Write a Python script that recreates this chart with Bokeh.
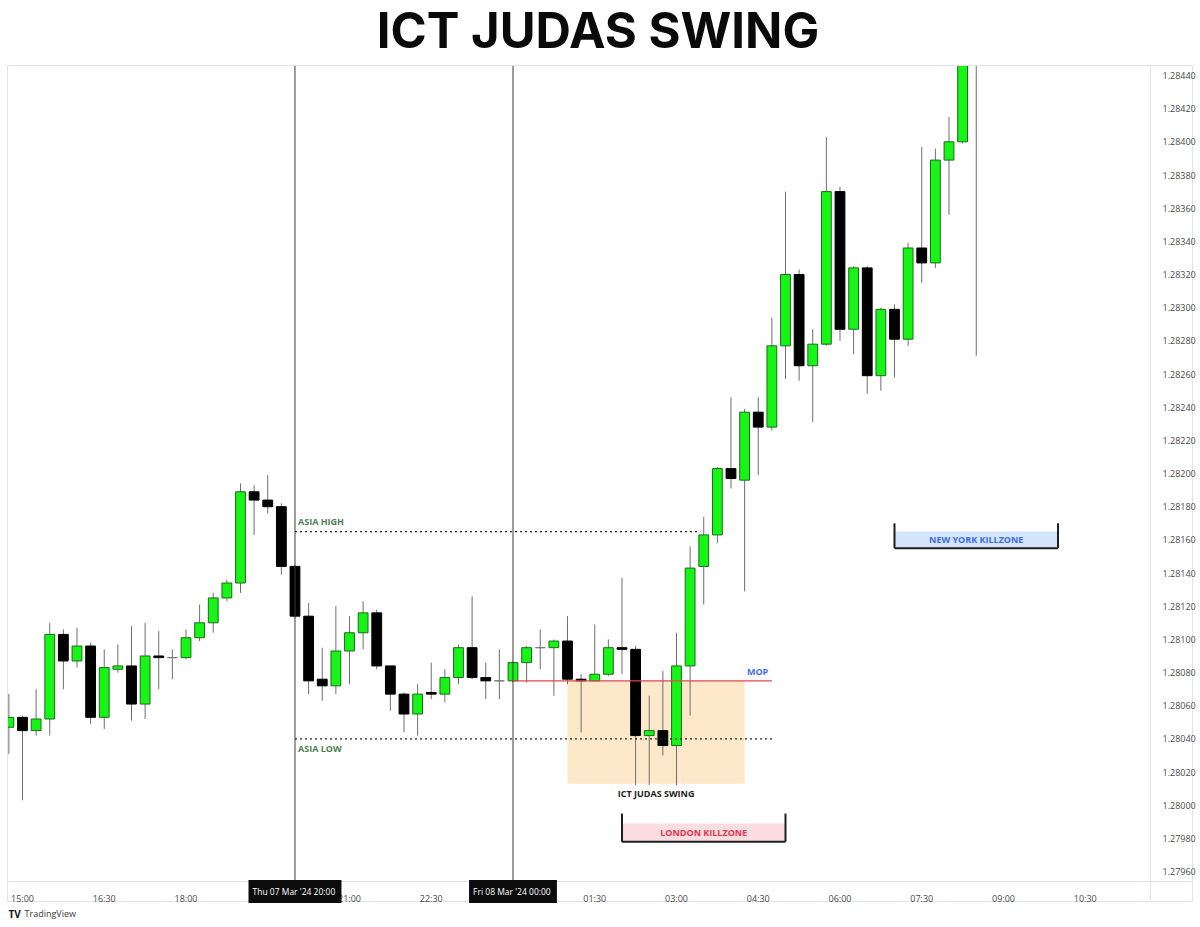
from bokeh.plotting import figure
from bokeh.models import Range1d, FixedTicker, NumeralTickFormatter, Label, LinearAxis, ColumnDataSource
from bokeh.embed import file_html
from bokeh.resources import INLINE

# ---------------- data (15-minute bars, first bar = 14:45) ----------------
first_bar = "14:45"
bar_minutes = 15

opens = [1.28047, 1.28053, 1.28045, 1.28052, 1.28103, 1.28087, 1.28096, 1.28053, 1.28082, 1.28084,
         1.28061, 1.28090, 1.28089, 1.28089, 1.28101, 1.28110, 1.28125, 1.28134, 1.28189, 1.28184,
         1.28180, 1.28144, 1.28114, 1.28076, 1.28072, 1.28093, 1.28104, 1.28116, 1.28084, 1.28067,
         1.28055, 1.28068, 1.28067, 1.28077, 1.28095, 1.28077, 1.28075, 1.28075, 1.28086, 1.28095,
         1.28095, 1.28099, 1.28076, 1.28075, 1.28079, 1.28095, 1.28094, 1.28042, 1.28045, 1.28036,
         1.28084, 1.28144, 1.28163, 1.28203, 1.28196, 1.28237, 1.28228, 1.28277, 1.28320, 1.28265,
         1.28278, 1.28370, 1.28287, 1.28324, 1.28259, 1.28299, 1.28281, 1.28336, 1.28327, 1.28389,
         1.28400, 1.28455]
highs = [1.28067, 1.28054, 1.28070, 1.28110, 1.28106, 1.28107, 1.28098, 1.28094, 1.28097, 1.28108,
         1.28110, 1.28105, 1.28094, 1.28106, 1.28121, 1.28128, 1.28136, 1.28194, 1.28193, 1.28199,
         1.28182, 1.28145, 1.28122, 1.28095, 1.28120, 1.28114, 1.28123, 1.28118, 1.28084, 1.28068,
         1.28073, 1.28086, 1.28082, 1.28097, 1.28126, 1.28086, 1.28094, 1.28087, 1.28096, 1.28106,
         1.28100, 1.28114, 1.28079, 1.28109, 1.28100, 1.28137, 1.28096, 1.28066, 1.28081, 1.28104,
         1.28156, 1.28174, 1.28204, 1.28246, 1.28239, 1.28246, 1.28294, 1.28370, 1.28323, 1.28287,
         1.28403, 1.28373, 1.28325, 1.28325, 1.28300, 1.28302, 1.28339, 1.28397, 1.28396, 1.28415,
         1.28460, 1.28480]
lows = [1.28031, 1.28003, 1.28042, 1.28042, 1.28070, 1.28083, 1.28049, 1.28046, 1.28080, 1.28051,
        1.28052, 1.28070, 1.28076, 1.28088, 1.28099, 1.28104, 1.28123, 1.28128, 1.28163, 1.28176,
        1.28139, 1.28113, 1.28067, 1.28063, 1.28067, 1.28073, 1.28094, 1.28082, 1.28057, 1.28044,
        1.28042, 1.28064, 1.28062, 1.28073, 1.28076, 1.28064, 1.28064, 1.28074, 1.28074, 1.28082,
        1.28066, 1.28073, 1.28044, 1.28075, 1.28078, 1.28079, 1.28012, 1.28012, 1.28030, 1.28012,
        1.28054, 1.28121, 1.28158, 1.28191, 1.28129, 1.28199, 1.28226, 1.28257, 1.28256, 1.28231,
        1.28277, 1.28280, 1.28272, 1.28248, 1.28250, 1.28258, 1.28277, 1.28315, 1.28324, 1.28356,
        1.28399, 1.28271]
closes = [1.28053, 1.28045, 1.28052, 1.28103, 1.28087, 1.28096, 1.28053, 1.28083, 1.28084, 1.28061,
          1.28090, 1.28089, 1.28089, 1.28101, 1.28110, 1.28125, 1.28134, 1.28189, 1.28184, 1.28180,
          1.28144, 1.28114, 1.28075, 1.28072, 1.28093, 1.28104, 1.28116, 1.28084, 1.28067, 1.28055,
          1.28067, 1.28067, 1.28077, 1.28095, 1.28077, 1.28075, 1.28075, 1.28086, 1.28095, 1.28095,
          1.28099, 1.28076, 1.28075, 1.28079, 1.28095, 1.28094, 1.28042, 1.28045, 1.28036, 1.28084,
          1.28143, 1.28163, 1.28203, 1.28197, 1.28237, 1.28228, 1.28277, 1.28320, 1.28265, 1.28278,
          1.28370, 1.28287, 1.28324, 1.28259, 1.28299, 1.28281, 1.28336, 1.28327, 1.28389, 1.28400,
          1.28452, 1.28470]

time_tick_labels = ["15:00", "16:30", "18:00", "19:30", "21:00", "22:30", "00:00",
                    "01:30", "03:00", "04:30", "06:00", "07:30", "09:00", "10:30"]
price_ticks = [1.27960, 1.27980, 1.28000, 1.28020, 1.28040, 1.28060, 1.28080, 1.28100,
               1.28120, 1.28140, 1.28160, 1.28180, 1.28200, 1.28220, 1.28240, 1.28260,
               1.28280, 1.28300, 1.28320, 1.28340, 1.28360, 1.28380, 1.28400, 1.28420, 1.28440]

session_marks = ["20:00", "00:00"]
session_mark_labels = ["Thu 07 Mar '24  20:00", "Fri 08 Mar '24  00:00"]
asia_high = 1.28165
asia_low = 1.28040
mop_level = 1.28075
judas_low = 1.28013
london_kz = ("02:00", "05:00")
newyork_kz = ("07:00", "10:00")

TITLE = "ICT JUDAS SWING"

# ---------------- layout: the frame is the whole canvas, chart box inside it ----------------
W, H = 1200, 925
PX_PER_BAR = 13.625
PX_PER_PRICE = 1 / 6.0295e-6
FRAME_X0 = -0.1 - 7 / PX_PER_BAR                 # canvas left edge (bars)
FRAME_Y1 = 1.28440 + 75 / PX_PER_PRICE            # canvas top edge (price)
FRAME_X1 = FRAME_X0 + W / PX_PER_BAR
FRAME_Y0 = FRAME_Y1 - H / PX_PER_PRICE


def bar_at(px):      # canvas x pixel -> bar coordinate
    return FRAME_X0 + px / PX_PER_BAR


def price_at(py):    # canvas y pixel -> price coordinate
    return FRAME_Y1 - py / PX_PER_PRICE


CH_X0, CH_X1 = bar_at(7), bar_at(1150)           # chart box
CH_Y1, CH_Y0 = price_at(65), price_at(881)
STRIP_Y = price_at(901)


def bar_index(t):
    h, m = map(int, t.split(":"))
    h0, m0 = map(int, first_bar.split(":"))
    return ((h * 60 + m) - (h0 * 60 + m0)) % 1440 / bar_minutes


x = list(range(len(opens)))
GREEN, BLACK, GRAY = "#16f516", "#000000", "#9a9a9a"
fill = [GREEN if c > o else (BLACK if c < o else GRAY) for o, c in zip(opens, closes)]
edge = ["#1d6a1d" if c > o else (BLACK if c < o else "#777777") for o, c in zip(opens, closes)]
src = ColumnDataSource(dict(
    x=x, open=opens, high=highs, low=lows, close=closes,
    top=[max(o, c) for o, c in zip(opens, closes)],
    bottom=[min(o, c) for o, c in zip(opens, closes)],
    fill=fill, edge=edge))

p = figure(width=W, height=H, output_backend="svg", toolbar_location=None,
           x_range=Range1d(FRAME_X0, FRAME_X1), y_range=Range1d(FRAME_Y0, FRAME_Y1),
           x_axis_location=None, y_axis_location=None, min_border=0)
p.background_fill_color = "white"
p.border_fill_color = "white"
p.outline_line_color = None
p.grid.visible = False

FONT = "Open Sans"
AX_GRAY = "#e0e3eb"

# ---------------- Judas swing zone (behind candles) ----------------
j0, j1 = bar_index("01:00"), bar_index("04:15")
p.quad(left=[j0], right=[j1], top=[mop_level], bottom=[judas_low],
       fill_color="#fde8c9", line_color=None)

# ---------------- candles ----------------
p.segment(x0="x", y0="low", x1="x", y1="high", source=src, line_color="#6e6e6e", line_width=1)
p.vbar(x="x", width=0.72, top="top", bottom="bottom", fill_color="fill",
       line_color="edge", line_width=1, source=src)

# session vertical lines
for t in session_marks:
    p.segment(x0=[bar_index(t)], y0=[STRIP_Y], x1=[bar_index(t)], y1=[CH_Y1],
              line_color="#3c3c3c", line_width=1)

# white masks: keep everything inside the chart box
p.quad(left=[FRAME_X0 - 5], right=[FRAME_X1 + 5], bottom=[CH_Y1], top=[FRAME_Y1 + 1],
       fill_color="white", line_color=None)
p.quad(left=[FRAME_X0 - 5], right=[CH_X0], bottom=[FRAME_Y0 - 1], top=[FRAME_Y1 + 1],
       fill_color="white", line_color=None)

# chart box and axis-strip borders
p.segment(x0=[CH_X0, CH_X0, CH_X0, CH_X0, CH_X1, bar_at(1192)],
          y0=[CH_Y1, CH_Y0, STRIP_Y, STRIP_Y, STRIP_Y, STRIP_Y],
          x1=[bar_at(1192), bar_at(1192), bar_at(1192), CH_X0, CH_X1, bar_at(1192)],
          y1=[CH_Y1, CH_Y0, STRIP_Y, CH_Y1, CH_Y1, CH_Y1],
          line_color=AX_GRAY, line_width=1)

# ---------------- Asia range, MOP ----------------
a0 = bar_index("20:00")
p.segment(x0=[a0], y0=[asia_high], x1=[50.75], y1=[asia_high], line_color="#222222",
          line_width=1.3, line_dash="2 3")
p.segment(x0=[a0], y0=[asia_low], x1=[bar_index("04:45")], y1=[asia_low], line_color="#222222",
          line_width=1.3, line_dash="2 3")
p.segment(x0=[bar_index("00:00")], y0=[mop_level], x1=[bar_index("04:45")], y1=[mop_level],
          line_color="#e0474c", line_width=1.3)

p.add_layout(Label(x=a0, y=asia_high, x_offset=3, y_offset=4, text="ASIA HIGH",
                   text_font=FONT, text_font_style="bold", text_font_size="9px",
                   text_color="#4f7d57", text_baseline="bottom"))
p.add_layout(Label(x=a0, y=asia_low, x_offset=3, y_offset=-3, text="ASIA LOW",
                   text_font=FONT, text_font_style="bold", text_font_size="9px",
                   text_color="#4f7d57", text_baseline="top"))
p.add_layout(Label(x=bar_index("04:45") - 1.05, y=mop_level, y_offset=3, text="MOP",
                   text_font=FONT, text_font_style="bold", text_font_size="9px",
                   text_color="#3f6fe6", text_align="center", text_baseline="bottom"))
p.add_layout(Label(x=(j0 + j1) / 2, y=judas_low, y_offset=-3, text="ICT JUDAS SWING",
                   text_font=FONT, text_font_style="bold", text_font_size="9px",
                   text_color="#222222", text_align="center", text_baseline="top"))


def killzone(span, top_tick, top_fill, bot, fill_col, text, text_col):
    k0, k1 = bar_index(span[0]), bar_index(span[1])
    p.quad(left=[k0], right=[k1], top=[top_fill], bottom=[bot], fill_color=fill_col, line_color=None)
    p.segment(x0=[k0, k1, k0], y0=[top_tick, top_tick, bot], x1=[k0, k1, k1], y1=[bot, bot, bot],
              line_color="#1e1e1e", line_width=2)
    p.add_layout(Label(x=(k0 + k1) / 2, y=(top_fill + bot) / 2, text=text, text_font=FONT,
                       text_font_style="bold", text_font_size="9px", text_color=text_col,
                       text_align="center", text_baseline="middle"))


killzone(london_kz, 1.27995, 1.27989, 1.27978, "#fcdde1", "LONDON KILLZONE", "#e3344c")
killzone(newyork_kz, 1.28170, 1.28165, 1.28155, "#d3e4fb", "NEW YORK KILLZONE", "#3b6be8")

# ---------------- axes (placed on the chart box edges) ----------------
xa = LinearAxis(fixed_location=CH_Y0,
                ticker=FixedTicker(ticks=[bar_index(t) for t in time_tick_labels]),
                major_label_overrides={bar_index(t): t for t in time_tick_labels})
ya = LinearAxis(fixed_location=CH_X1, ticker=FixedTicker(ticks=price_ticks),
                formatter=NumeralTickFormatter(format="0.00000"))
for ax in (xa, ya):
    ax.axis_line_color = None
    ax.major_tick_line_color = None
    ax.minor_tick_line_color = None
    ax.major_label_text_font = FONT
    ax.major_label_text_font_size = "9px"
    ax.major_label_text_color = "#4a4a4a"
xa.major_label_standoff = 4
ya.major_label_standoff = 6
p.add_layout(xa, "below")
p.add_layout(ya, "right")

# ---------------- date boxes on the time axis ----------------
for t, lab in zip(session_marks, session_mark_labels):
    p.add_layout(Label(x=bar_index(t), y=price_at(891), text=lab, text_font=FONT,
                       text_font_size="8.5px", text_color="white", text_align="center",
                       text_baseline="middle", background_fill_color="#0c0c0c",
                       padding=(4, 6)))

# ---------------- title and footer ----------------
p.add_layout(Label(x=bar_at(597.5), y=price_at(30), text=TITLE, text_font="Inter",
                   text_font_style="bold", text_font_size="49px", text_color="#0a0a0a",
                   text_align="center", text_baseline="middle"))
p.add_layout(Label(x=bar_at(8), y=price_at(913), text="TV", text_font=FONT,
                   text_font_style="bold", text_font_size="10px", text_color="#131722",
                   text_baseline="middle"))
p.add_layout(Label(x=bar_at(24), y=price_at(913), text="TradingView", text_font=FONT,
                   text_font_size="9px", text_color="#3a3a3a", text_baseline="middle"))

open("out.html", "w").write(file_html(p, INLINE))
